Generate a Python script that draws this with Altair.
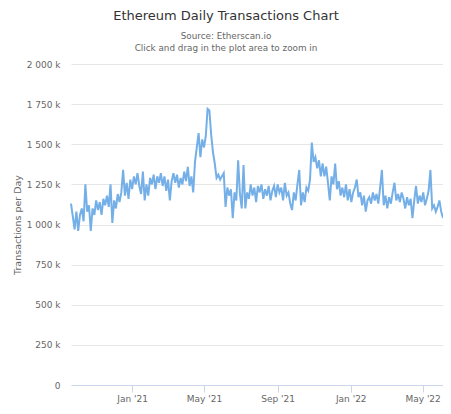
import altair as alt
import pandas as pd

start_date = "2020-09-21"
step_days = 3
tx_thousands = [
    1130, 1050, 970, 1080, 960, 1060, 1100, 1020, 1250, 1080,
    1120, 960, 1100, 1060, 1150, 1090, 1140, 1060, 1160, 1120,
    1180, 1110, 1250, 1010, 1150, 1100, 1190, 1140, 1200, 1340,
    1180, 1260, 1160, 1280, 1220, 1300, 1250, 1320, 1240, 1190,
    1330, 1150, 1250, 1180, 1290, 1250, 1310, 1220, 1300, 1260,
    1320, 1240, 1300, 1210, 1280, 1150, 1270, 1320, 1260, 1310,
    1230, 1290, 1250, 1330, 1270, 1360, 1240, 1300, 1200, 1390,
    1480, 1570, 1420, 1530, 1480, 1550, 1720, 1710, 1560, 1450,
    1380, 1290, 1310, 1280, 1300, 1320, 1110, 1230, 1180, 1220,
    1040, 1200, 1150, 1400, 1190, 1100, 1370, 1100, 1200, 1160,
    1250, 1180, 1230, 1140, 1240, 1200, 1250, 1160, 1220, 1180,
    1240, 1150, 1210, 1240, 1170, 1250, 1200, 1230, 1150, 1260,
    1180, 1200, 1130, 1090, 1200, 1150, 1250, 1340, 1120, 1200,
    1140, 1230, 1210, 1280, 1510, 1390, 1420, 1350, 1400, 1300,
    1380, 1300, 1360, 1260, 1150, 1300, 1250, 1380, 1220, 1270,
    1180, 1230, 1170, 1250, 1150, 1220, 1140, 1200, 1230, 1280,
    1170, 1200, 1120, 1180, 1080, 1150, 1170, 1130, 1200, 1150,
    1190, 1130, 1230, 1340, 1120, 1180, 1100, 1170, 1130, 1200,
    1260, 1150, 1190, 1140, 1200, 1160, 1100, 1170, 1120, 1160,
    1040, 1150, 1240, 1130, 1180, 1140, 1200, 1120, 1160, 1210,
    1340, 1100, 1120, 1080, 1110, 1150, 1080, 1040,
]
x_ticks = ["2021-01-01", "2021-05-01", "2021-09-01", "2022-01-01", "2022-05-01"]
y_ticks = [0, 250000, 500000, 750000, 1000000, 1250000, 1500000, 1750000, 2000000]

dates = pd.date_range(start_date, periods=len(tx_thousands), freq=f"{step_days}D")
df = pd.DataFrame({"date": dates, "tx": [v * 1000 for v in tx_thousands]})

FONT = "DejaVu Sans"
x_tick_dt = [alt.DateTime(year=int(d[:4]), month=int(d[5:7]), date=1) for d in x_ticks]

chart = alt.Chart(df).mark_line(color="#74afe8", strokeWidth=2).encode(
    x=alt.X(
        "date:T",
        title=None,
        scale=alt.Scale(nice=False, domain=[dates[0].isoformat(), dates[-1].isoformat()]),
        axis=alt.Axis(
            values=x_tick_dt,
            format="%b '%y",
            grid=False,
            domainColor="#ccd6eb",
            tickColor="#ccd6eb",
            tickSize=7,
            labelColor="#666666",
            labelFont=FONT,
            labelFontSize=9,
            labelPadding=2,
        ),
    ),
    y=alt.Y(
        "tx:Q",
        title="Transactions per Day",
        scale=alt.Scale(domain=[0, 2000000], nice=False),
        axis=alt.Axis(
            values=y_ticks,
            labelExpr="datum.value == 0 ? '0' : replace(format(datum.value / 1000, ','), ',', ' ') + ' k'",
            domain=False,
            ticks=False,
            gridColor="#e6e6e6",
            labelColor="#666666",
            labelFont=FONT,
            labelFontSize=9,
            labelPadding=11,
            titleColor="#666666",
            titleFont=FONT,
            titleFontSize=9.5,
            titleFontWeight="normal",
            titlePadding=4,
        ),
    ),
).properties(
    width=372,
    height=321,
    autosize=alt.AutoSizeParams(type="none"),
    padding={"left": 63, "top": 56, "right": 0, "bottom": 20},
    title=alt.TitleParams(
        text="Ethereum Daily Transactions Chart",
        subtitle=["Source: Etherscan.io", "Click and drag in the plot area to zoom in"],
        anchor="middle",
        frame="group",
        dx=-31,
        offset=7,
        font=FONT,
        fontSize=13,
        fontWeight="normal",
        color="#333333",
        subtitleFont=FONT,
        subtitleFontSize=8.8,
        subtitleColor="#666666",
        subtitlePadding=9,
        subtitleLineHeight=12,
    ),
).configure_view(stroke=None)

chart.save("out.html", embed_options={"renderer": "svg", "actions": False})
